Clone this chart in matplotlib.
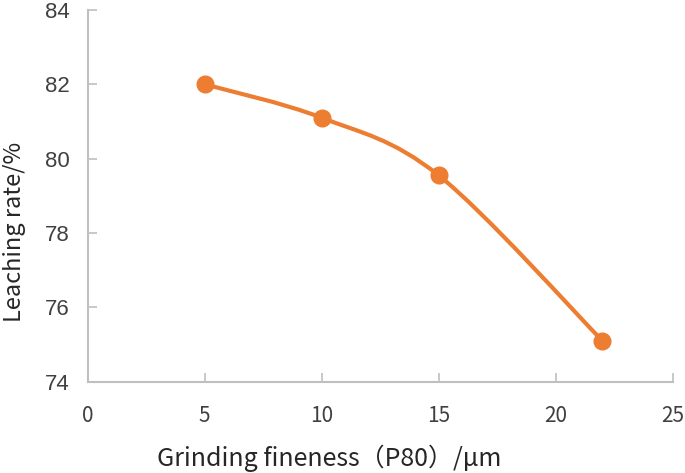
import numpy as np
import matplotlib
matplotlib.use("Agg")
import matplotlib.pyplot as plt
from matplotlib.path import Path
from matplotlib.patches import PathPatch

# data
fineness = [5, 10, 15, 22]
leaching = [82.0, 81.1, 79.55, 75.1]

x_ticks = [0, 5, 10, 15, 20, 25]
y_ticks = [74, 76, 78, 80, 82, 84]

orange = "#ED7D31"
axis_gray = "#BFBFBF"
text_gray = "#404040"
cjk = ["Noto Sans CJK SC", "DejaVu Sans"]


def smooth_path(xs, ys):
    # excel-like smoothed line: cubic bezier segments through the points
    pts = np.column_stack([xs, ys]).astype(float)
    n = len(pts)
    verts = [pts[0]]
    codes = [Path.MOVETO]
    for i in range(n - 1):
        p0 = pts[i - 1] if i > 0 else pts[i]
        p1 = pts[i]
        p2 = pts[i + 1]
        p3 = pts[i + 2] if i + 2 < n else pts[i + 1]
        c1 = p1 + (p2 - p0) / 6.0
        c2 = p2 - (p3 - p1) / 6.0
        verts += [c1, c2, p2]
        codes += [Path.CURVE4] * 3
    return Path(verts, codes)


fig = plt.figure(figsize=(6.85, 4.73), dpi=100)
ax = fig.add_axes([0.128, 0.193, 0.854, 0.786])

ax.add_patch(PathPatch(smooth_path(fineness, leaching), facecolor="none",
                       edgecolor=orange, lw=3.0, capstyle="round"))
ax.plot(fineness, leaching, linestyle="none", marker="o", ms=12,
        color=orange, zorder=3)

ax.set_xlim(0, 25)
ax.set_ylim(74, 84)
ax.set_xticks(x_ticks)
ax.set_yticks(y_ticks)
ax.set_xticklabels([str(v) for v in x_ticks], family=cjk,
                   fontsize=15, color=text_gray)
ax.set_yticklabels([str(v) for v in y_ticks], family=["Liberation Sans"],
                   fontsize=16, color=text_gray)

for s in ["top", "right"]:
    ax.spines[s].set_visible(False)
for s in ["left", "bottom"]:
    ax.spines[s].set_color(axis_gray)
    ax.spines[s].set_linewidth(1.5)
ax.tick_params(direction="in", length=6.5, width=1.2, color=axis_gray)
ax.tick_params(axis="y", pad=13)
ax.tick_params(axis="x", pad=17)

# axis titles sit off-centre in the original
fig.text(0.48, 1 - 458 / 473, "Grinding fineness（P80）/μm", family=cjk,
         fontsize=18, color="#262626", ha="center", va="center")
fig.text(0.021, 1 - 232 / 473, "Leaching rate/%", family=cjk, rotation=90,
         fontsize=17, color="#262626", ha="center", va="center")

fig.savefig("out.png", dpi=100)
